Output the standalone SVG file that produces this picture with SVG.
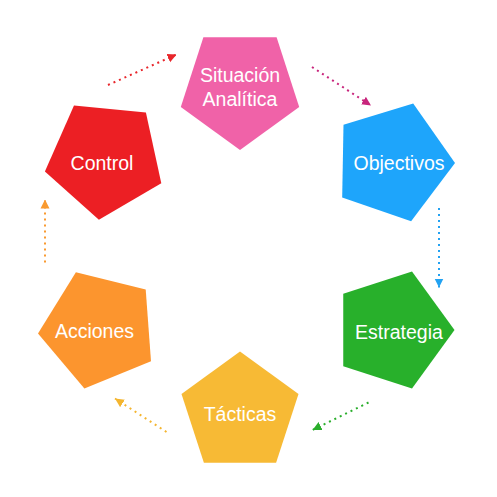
<svg xmlns="http://www.w3.org/2000/svg" width="497" height="497" viewBox="0 0 497 497">
<style>
.lbl{font-family:"Liberation Sans",Arial,sans-serif;font-size:19.5px;fill:#fff;text-anchor:middle}
.con{fill:none;stroke-width:2;stroke-dasharray:2 4}
</style>
<defs>
<marker id="mRed" viewBox="0 0 10 10" refX="10" refY="5" markerWidth="9" markerHeight="10" markerUnits="userSpaceOnUse" orient="auto"><path d="M0,0 L10,5 L0,10 z" fill="#E8262B"/></marker>
<marker id="mMag" viewBox="0 0 10 10" refX="10" refY="5" markerWidth="9" markerHeight="10" markerUnits="userSpaceOnUse" orient="auto"><path d="M0,0 L10,5 L0,10 z" fill="#C8257C"/></marker>
<marker id="mBlue" viewBox="0 0 10 10" refX="10" refY="5" markerWidth="9" markerHeight="10" markerUnits="userSpaceOnUse" orient="auto"><path d="M0,0 L10,5 L0,10 z" fill="#22A2F2"/></marker>
<marker id="mGreen" viewBox="0 0 10 10" refX="10" refY="5" markerWidth="9" markerHeight="10" markerUnits="userSpaceOnUse" orient="auto"><path d="M0,0 L10,5 L0,10 z" fill="#2AAE2C"/></marker>
<marker id="mYellow" viewBox="0 0 10 10" refX="10" refY="5" markerWidth="9" markerHeight="10" markerUnits="userSpaceOnUse" orient="auto"><path d="M0,0 L10,5 L0,10 z" fill="#F4B52F"/></marker>
<marker id="mOrange" viewBox="0 0 10 10" refX="10" refY="5" markerWidth="9" markerHeight="10" markerUnits="userSpaceOnUse" orient="auto"><path d="M0,0 L10,5 L0,10 z" fill="#F99A30"/></marker>
</defs>
<g id="connectors">
<line class="con" x1="108" y1="85" x2="176.5" y2="54.5" stroke="#E8262B" marker-end="url(#mRed)"/>
<line class="con" x1="312" y1="67" x2="371" y2="105.5" stroke="#C8257C" marker-end="url(#mMag)"/>
<line class="con" x1="439" y1="208" x2="439" y2="287.5" stroke="#22A2F2" marker-end="url(#mBlue)"/>
<line class="con" x1="368.5" y1="402.5" x2="312.5" y2="430" stroke="#2AAE2C" marker-end="url(#mGreen)"/>
<line class="con" x1="166.5" y1="432" x2="115" y2="398.5" stroke="#F4B52F" marker-end="url(#mYellow)"/>
<line class="con" x1="45" y1="262.5" x2="45" y2="199.5" stroke="#F99A30" marker-end="url(#mOrange)"/>
</g>
<g id="situacion">
<polygon points="240,150 299.2,107 276.6,37.3 203.4,37.3 180.8,107" fill="#F062A8"/>
<text class="lbl" x="240" y="82">Situación</text>
<text class="lbl" x="240" y="106">Analítica</text>
</g>
<g id="objectivos">
<polygon points="455,163.1 411.1,221.3 342.2,197.6 343.5,124.7 413.2,103.4" fill="#1EA5FB"/>
<text class="lbl" x="399" y="170">Objectivos</text>
</g>
<g id="estrategia">
<polygon points="454.5,330 412,388.5 343.25,366.15 343.25,293.85 412,271.5" fill="#28B02B"/>
<text class="lbl" x="399" y="339">Estrategia</text>
</g>
<g id="tacticas">
<polygon points="240,351.5 298.5,394 276.1,462.8 203.9,462.8 181.5,394" fill="#F7BA35"/>
<text class="lbl" x="240" y="421">Tácticas</text>
</g>
<g id="acciones">
<polygon points="38,333.5 75.9,272.3 145.7,289.5 151,361.3 84.4,388.4" fill="#FC952E"/>
<text class="lbl" x="94.5" y="338">Acciones</text>
</g>
<g id="control">
<polygon points="98.9,219.7 44.9,171.6 74,105.4 145.9,112.6 161.3,183.2" fill="#EC1F24"/>
<text class="lbl" x="102" y="170">Control</text>
</g>
</svg>
